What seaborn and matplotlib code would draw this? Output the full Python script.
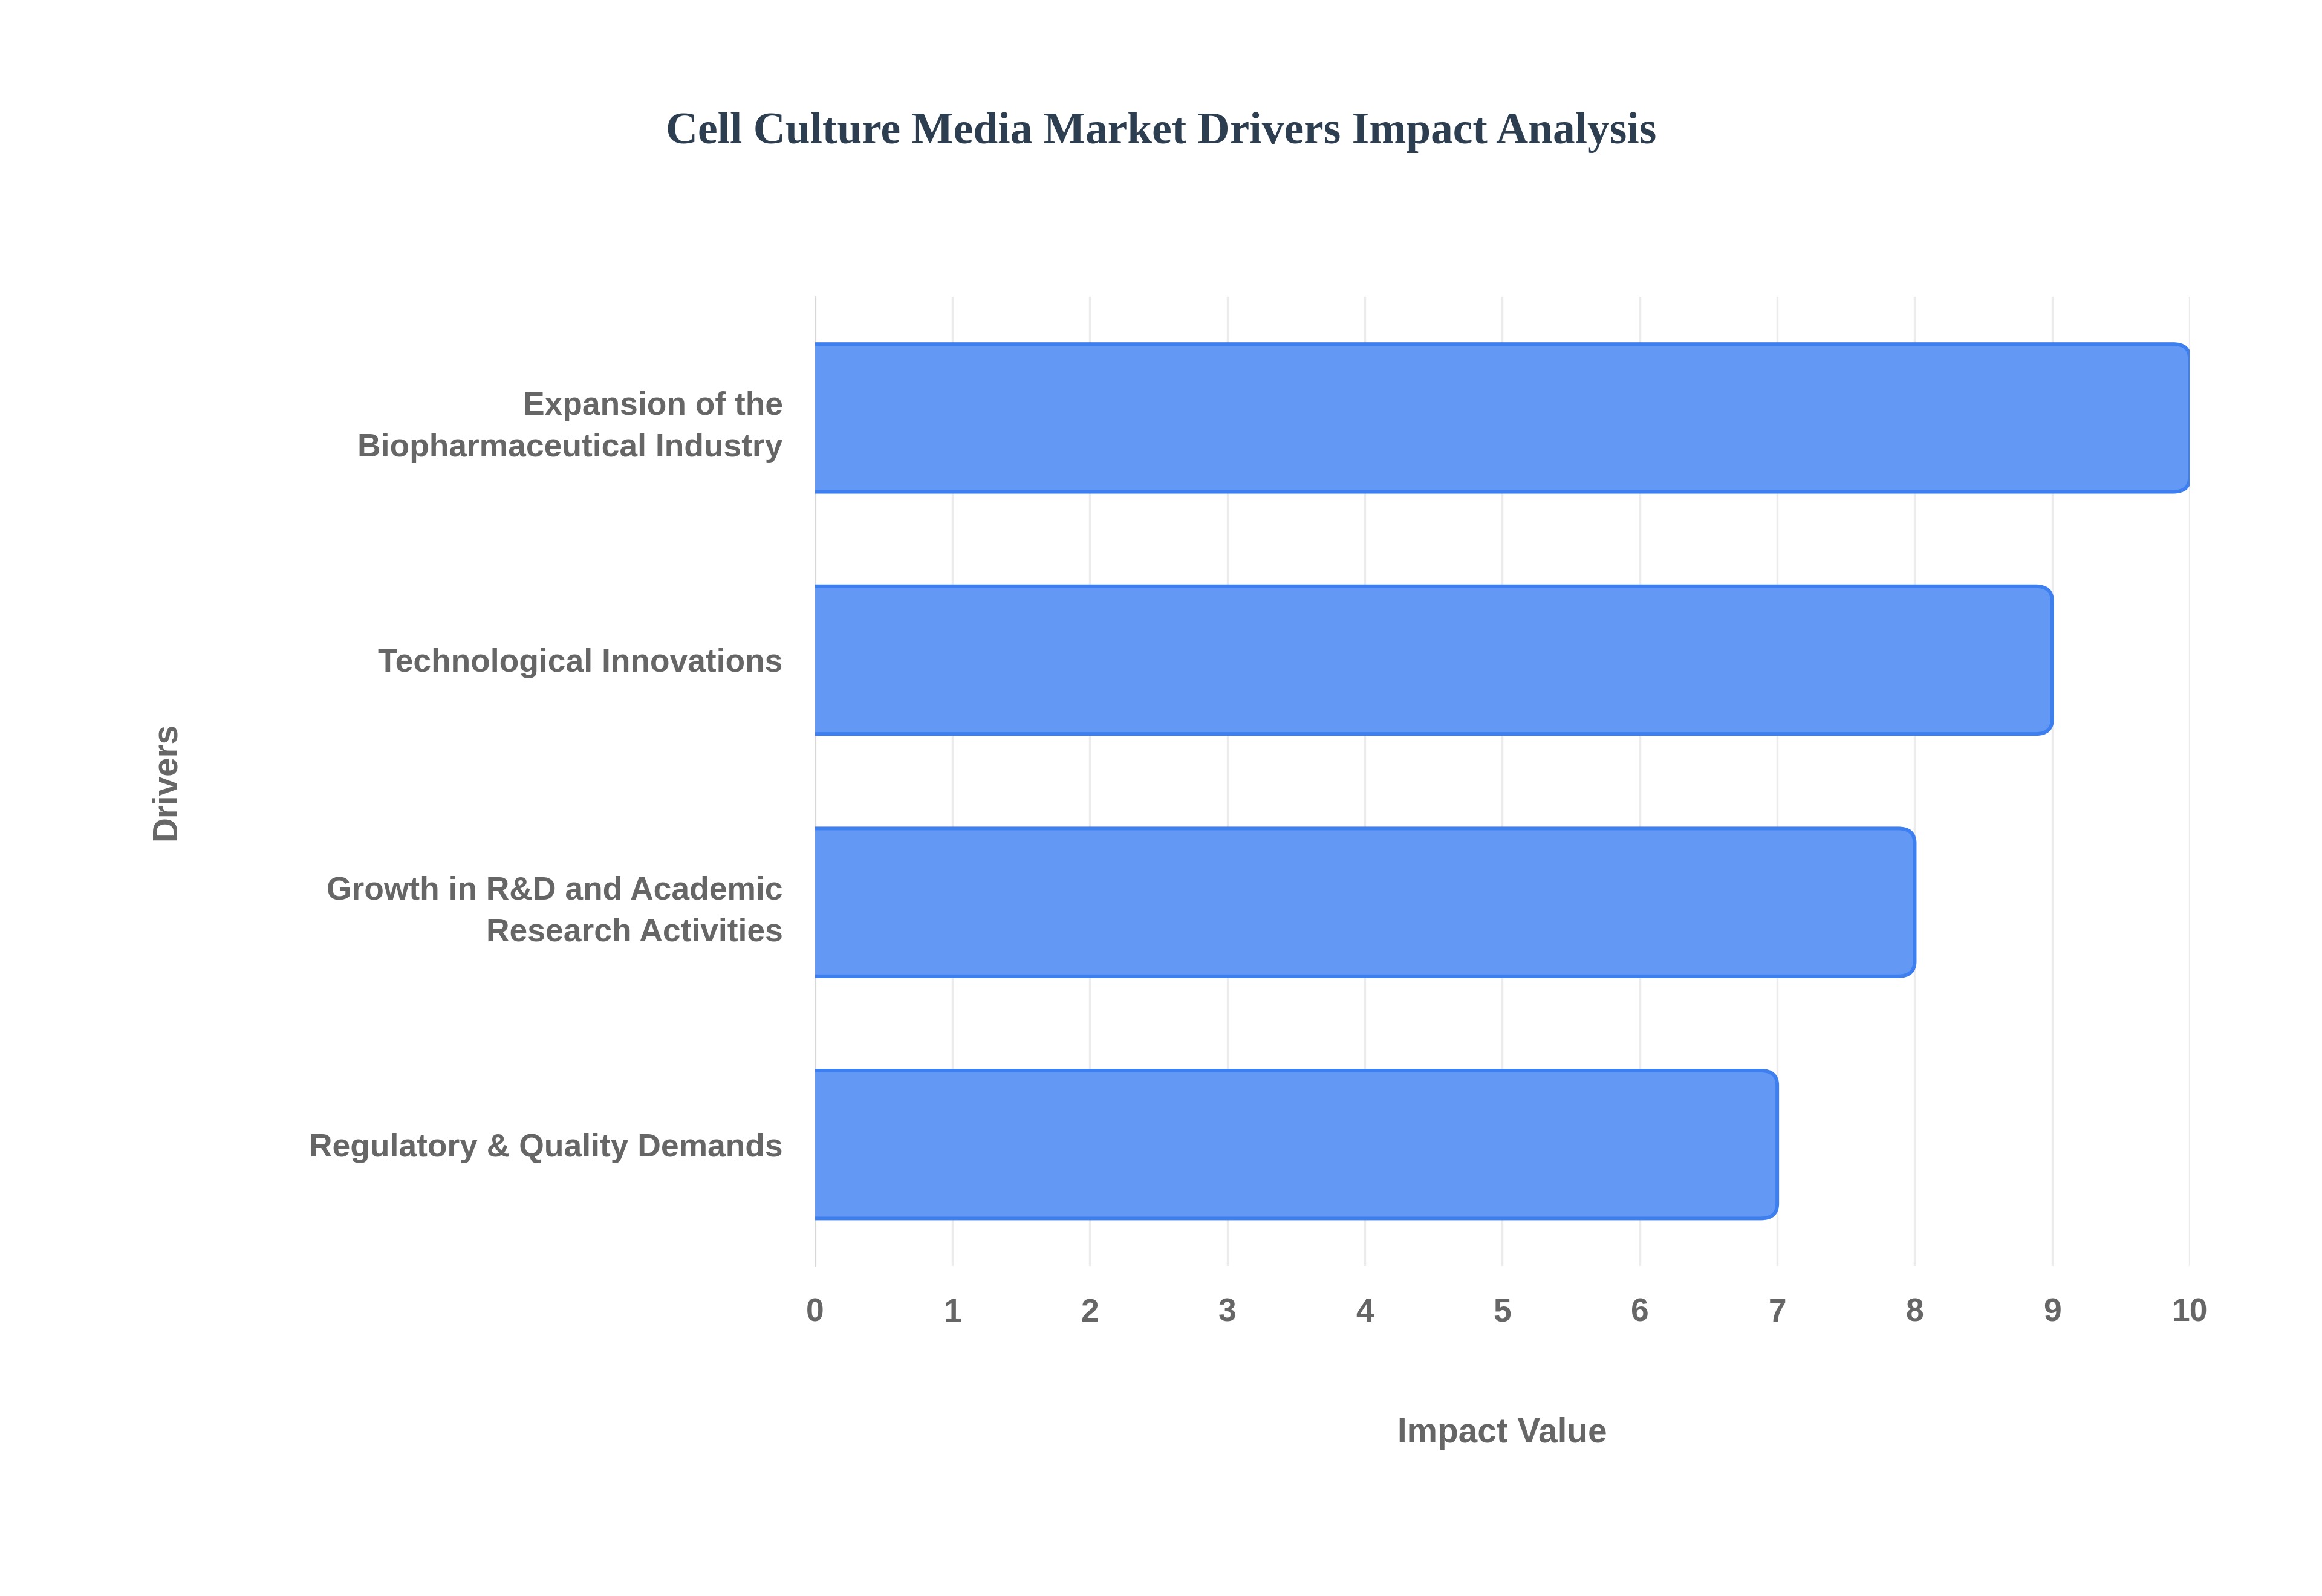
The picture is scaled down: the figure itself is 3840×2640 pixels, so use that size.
import matplotlib
matplotlib.use("Agg")
import matplotlib.pyplot as plt
import seaborn as sns
import pandas as pd
from matplotlib.patches import FancyBboxPatch

drivers = ["Expansion of the\nBiopharmaceutical Industry", "Technological Innovations",
           "Growth in R&D and Academic\nResearch Activities", "Regulatory & Quality Demands"]
impact = [10, 9, 8, 7]

df = pd.DataFrame({"driver": drivers, "impact": impact})

sns.set_style("white")
plt.rcParams['font.family'] = ['Liberation Sans', 'DejaVu Sans']

fig = plt.figure(figsize=(16, 11), dpi=240)
ax = fig.add_axes([0.351, 0.207, 0.592, 0.607])
sns.barplot(data=df, x="impact", y="driver", orient="h", width=0.61, color="#4f8ef7", ax=ax)

# swap bars for ones with rounded right ends
for p in list(ax.patches):
    x, y, w, h = p.get_x(), p.get_y(), p.get_width(), p.get_height()
    p.remove()
    ax.add_patch(FancyBboxPatch((x - 0.2, y), w + 0.2, h,
                                boxstyle="round,pad=0,rounding_size=0.12",
                                mutation_aspect=0.5,
                                facecolor="#6399f5", edgecolor="#3d7fef", linewidth=1.8,
                                clip_on=True, zorder=3))

ax.set_xlim(0, 10)
ax.set_ylim(3.5, -0.5)
ax.set_xticks(range(0, 11))
ax.grid(axis="x", color="#ececec", linewidth=1.0, zorder=0)
ax.set_axisbelow(True)
for s in ["top", "right", "bottom"]:
    ax.spines[s].set_visible(False)
ax.spines["left"].set_color("#d8d8d8")
ax.tick_params(axis="x", colors="#d0d0d0", length=6, pad=10, labelcolor="#666666", labelsize=16)
ax.tick_params(axis="y", length=0, pad=16, labelcolor="#666666", labelsize=16)
for t in ax.get_xticklabels():
    t.set_fontweight("bold")
for t in ax.get_yticklabels():
    t.set_fontweight("bold")
    t.set_linespacing(1.5)

ax.set_xlabel("Impact Value", fontsize=17, fontweight="bold", color="#666666", labelpad=44)
ax.set_ylabel("Drivers", fontsize=17, fontweight="bold", color="#666666")
ax.yaxis.set_label_coords(-0.46, 0.5)

fig.suptitle("Cell Culture Media Market Drivers Impact Analysis", y=0.93,
             fontsize=22, fontweight="bold", color="#2c3e50", family="Liberation Serif")

fig.savefig("out.png", dpi=240, facecolor="white")
